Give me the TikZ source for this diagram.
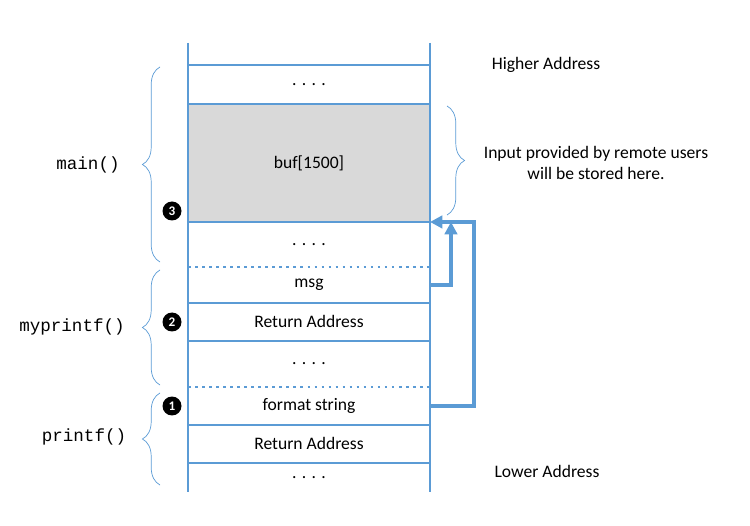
\documentclass[tikz,border=0pt]{standalone}
\usepackage{fontspec}
\setmainfont{Carlito}
\setmonofont{Liberation Mono}
\usetikzlibrary{arrows.meta, positioning, calc, decorations.pathreplacing}
\definecolor{stackblue}{RGB}{91,155,213}
\tikzset{every node/.style={align=center, font=\fontsize{10}{12}\selectfont}}
\tikzset{cell/.style={rectangle, minimum width=4.84cm, inner sep=0pt, outer sep=0pt}}
\tikzset{sep/.style={stackblue, line width=0.9pt}}
\tikzset{dotsep/.style={stackblue, line width=1pt, dash pattern=on 1.5pt off 2.5pt}}
\tikzset{brc/.style={stackblue, decorate, decoration={brace, amplitude=10pt}}}
\tikzset{num/.style={circle, fill=black, text=white, inner sep=0pt, minimum size=0.38cm, font=\fontsize{7.5}{8}\selectfont\bfseries}}
\tikzset{arrow/.style={stackblue, line width=2pt, -{Triangle[length=7pt,width=7pt]}}}
\begin{document}
\begin{tikzpicture}[x=0.02cm, y=-0.02cm]
    \useasboundingbox (0,0) rectangle (750,526);
    % stack cells
    \node (top)  [cell, minimum height=0.78cm] at (309,84.5) {. . . .};
    \node (buf)  [cell, minimum height=2.36cm, fill=black!15, below=0pt of top] {\raisebox{-0.14cm}{buf[1500]}};
    \node (dots) [cell, minimum height=0.9cm, below=0pt of buf] {. . . .};
    \node (msg)  [cell, minimum height=0.72cm, below=0pt of dots] {msg};
    \node (ret)  [cell, minimum height=0.76cm, below=0pt of msg] {Return Address};
    \node (mid)  [cell, minimum height=0.92cm, below=0pt of ret] {. . . .};
    \node (fmt)  [cell, minimum height=0.76cm, below=0pt of mid] {format string};
    \node (ret1) [cell, minimum height=0.76cm, below=0pt of fmt] {Return Address};
    \node (bot)  [cell, minimum height=0.58cm, below=0pt of ret1] {. . . .};

    \draw [sep] (188,43) -- (188,492);
    \draw [sep] (430,43) -- (430,492);
    \draw [sep] (top.north west) -- (top.north east);
    \draw [sep] (buf.north west) -- (buf.north east);
    \draw [sep] (buf.south west) -- (buf.south east);
    \draw [dotsep] (msg.north west) -- (msg.north east);
    \draw [sep] (ret.north west) -- (ret.north east);
    \draw [sep] (ret.south west) -- (ret.south east);
    \draw [dotsep] (fmt.north west) -- (fmt.north east);
    \draw [sep] (ret1.north west) -- (ret1.north east);
    \draw [sep] (ret1.south west) -- (ret1.south east);

    % labels on the right
    \node (high) at (546,65) {Higher Address};
    \node (low) at (547,471) {Lower Address};
    \node (input) at (596,163) {Input provided by remote users\\will be stored here.};

    % braces
    \draw [brc] (160,262) -- (160,67);
    \node (main) [font=\ttfamily\fontsize{10}{12}\selectfont] at (88,165) {main()};
    \draw [brc] (160,385) -- (160,270);
    \node (myp) [font=\ttfamily\fontsize{10}{12}\selectfont] at (72,327) {myprintf()};
    \draw [brc] (160,485) -- (160,393);
    \node (prf) [font=\ttfamily\fontsize{10}{12}\selectfont] at (84,437) {printf()};
    \draw [brc] (447,106) -- (447,215);

    % numbered marks
    \node (n3) [num] at (172,211) {3};
    \node (n2) [num] at (172,322) {2};
    \node (n1) [num] at (172,406) {1};

    % arrows
    \draw [arrow] (fmt.east) -- ++(44,0) |- (buf.south east);
    \draw [arrow] (msg.east) -| ($(buf.south east)+(21,0)$);
\end{tikzpicture}
\end{document}
